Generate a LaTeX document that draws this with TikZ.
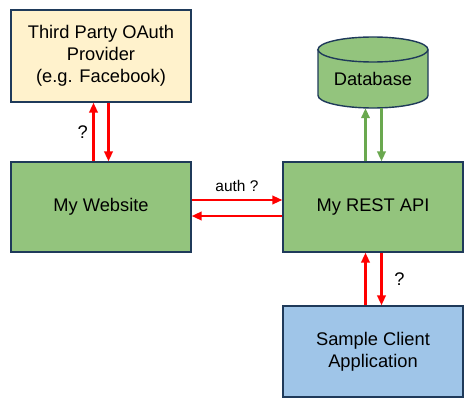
\documentclass[tikz,border=0pt]{standalone}
\usepackage{fontspec}
\setmainfont{Liberation Sans}
\usepackage{tikz}
\usetikzlibrary{arrows.meta}
\definecolor{APCream}{HTML}{FFF2CC}
\definecolor{APGreen}{HTML}{93C47D}
\definecolor{APBlue}{HTML}{9FC5E8}
\definecolor{APNavy}{HTML}{1F3A5A}
\definecolor{APRed}{HTML}{FF0000}
\definecolor{APLeaf}{HTML}{6AA84F}

\tikzset{
  sysbox/.style={draw=APNavy,line width=1pt,minimum width=180*0.025cm,minimum height=90*0.025cm,
    align=center,font=\fontsize{13}{15.5}\selectfont,inner sep=0pt},
  redflow/.style={APRed,line width=1.5pt,-{Triangle[length=7pt,width=6pt]}},
  dbflow/.style={APLeaf,line width=1.5pt,-{Triangle[length=7pt,width=6pt]}}
}

\begin{document}
\begin{tikzpicture}[x=0.025cm,y=-0.025cm]
\path[use as bounding box] (0,0) rectangle (474,407);
\node[sysbox,fill=APCream,minimum height=92*0.025cm] (oauth) at (101,56) {Third Party OAuth\\Provider\\(e.g. Facebook)};
\node[sysbox,fill=APGreen] (web) at (101,207) {My Website};
\node[sysbox,fill=APGreen] (api) at (373,207) {My REST API};
\node[sysbox,fill=APBlue,minimum height=91*0.025cm] (client) at (373,351.5) {Sample Client\\Application};
% database cylinder
\path[draw=APNavy,fill=APGreen,line width=1pt] (318,49.5) -- (318,95.5)
  arc[start angle=180,end angle=360,x radius=1.375cm,y radius=0.3125cm] -- (428,49.5)
  arc[start angle=0,end angle=180,x radius=1.375cm,y radius=0.3125cm] -- cycle;
\draw[APNavy,line width=1pt] (318,49.5) arc[start angle=180,end angle=360,x radius=1.375cm,y radius=0.3125cm];
\node[minimum width=110*0.025cm,minimum height=58.5*0.025cm,inner sep=0pt,
  font=\fontsize{13}{15.5}\selectfont] (db) at (373,78.75) {Database};
% website <-> oauth provider
\draw[redflow] ([xshift=-7.5*0.025cm]web.north) -- ([xshift=-7.5*0.025cm]oauth.south) node[midway,left=0pt,black,font=\fontsize{13}{15}\selectfont] {?};
\draw[redflow] ([xshift=7.5*0.025cm]oauth.south) -- ([xshift=7.5*0.025cm]web.north);
% website <-> api
\draw[redflow] ([yshift=7*0.025cm]web.east) -- ([yshift=7*0.025cm]api.west) node[midway,above=2pt,black,font=\fontsize{11}{13}\selectfont] {auth ?};
\draw[redflow] ([yshift=-9*0.025cm]api.west) -- ([yshift=-9*0.025cm]web.east);
% api <-> database
\draw[dbflow] ([xshift=-7.5*0.025cm]api.north) -- ([xshift=-7.5*0.025cm]db.south);
\draw[dbflow] ([xshift=8.5*0.025cm]db.south) -- ([xshift=8.5*0.025cm]api.north);
% client <-> api
\draw[redflow] ([xshift=-7.5*0.025cm]client.north) -- ([xshift=-7.5*0.025cm]api.south);
\draw[redflow] ([xshift=8.5*0.025cm]api.south) -- ([xshift=8.5*0.025cm]client.north) node[midway,right=5pt,black,font=\fontsize{13}{15}\selectfont] {?};
\end{tikzpicture}
\end{document}
